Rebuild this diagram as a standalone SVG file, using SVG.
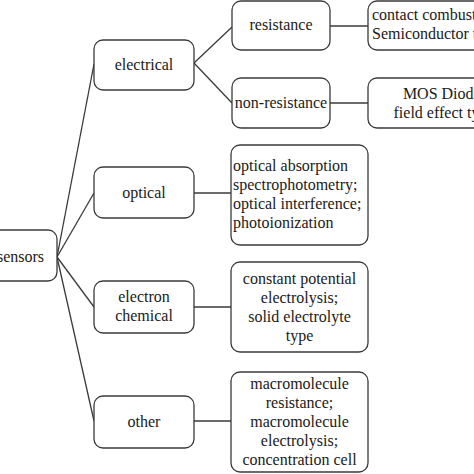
<svg xmlns="http://www.w3.org/2000/svg" width="474" height="474" viewBox="0 0 474 474">
<style>
.box{fill:#fff;stroke:#3a3a3a;stroke-width:1.3}
.ln{stroke:#3a3a3a;stroke-width:1.3;fill:none}
text{font-family:"Liberation Serif","Times New Roman",serif;font-size:16px;fill:#1a1a1a}
.c{text-anchor:middle}
</style>
<rect width="474" height="474" fill="#fff"/>
<g id="connectors">
<line class="ln" x1="57" y1="257" x2="94" y2="64"/>
<line class="ln" x1="57" y1="257" x2="94" y2="193"/>
<line class="ln" x1="57" y1="257" x2="94" y2="307"/>
<line class="ln" x1="57" y1="257" x2="94" y2="421"/>
<line class="ln" x1="194" y1="63" x2="232" y2="27"/>
<line class="ln" x1="194" y1="63" x2="232" y2="103"/>
<line class="ln" x1="330" y1="26" x2="368" y2="26"/>
<line class="ln" x1="330" y1="103" x2="368" y2="103"/>
<line class="ln" x1="194" y1="193" x2="231" y2="193"/>
<line class="ln" x1="194" y1="307" x2="231" y2="307"/>
<line class="ln" x1="194" y1="421" x2="231" y2="421"/>
</g>
<g id="sensors"><rect class="box" x="-16" y="230" width="73" height="51" rx="9"/><text class="c" x="20.5" y="262">sensors</text></g>
<g id="electrical"><rect class="box" x="94" y="40" width="100" height="50" rx="9"/><text class="c" x="144" y="70">electrical</text></g>
<g id="optical"><rect class="box" x="94" y="167" width="100" height="51" rx="9"/><text class="c" x="144" y="198">optical</text></g>
<g id="electron-chemical"><rect class="box" x="94" y="281" width="100" height="52" rx="9"/><text class="c" x="144" y="302">electron</text><text class="c" x="144" y="321">chemical</text></g>
<g id="other"><rect class="box" x="94" y="396" width="100" height="52" rx="9"/><text class="c" x="144" y="427">other</text></g>
<g id="resistance"><rect class="box" x="232" y="1" width="98" height="49" rx="9"/><text class="c" x="281" y="30">resistance</text></g>
<g id="non-resistance"><rect class="box" x="232" y="78" width="98" height="50" rx="9"/><text class="c" x="281" y="108">non-resistance</text></g>
<g id="contact"><rect class="box" x="368" y="1" width="160" height="49" rx="9"/><text x="372" y="20">contact combustion;</text><text x="372" y="39">Semiconductor type</text></g>
<g id="mos"><rect class="box" x="368" y="78" width="160" height="50" rx="9"/><text class="c" x="444" y="99">MOS Diode;</text><text class="c" x="444" y="118">field effect type</text></g>
<g id="optical-detail"><rect class="box" x="231" y="145" width="137" height="100" rx="9"/><text x="233" y="171">optical absorption</text><text x="233" y="190">spectrophotometry;</text><text x="233" y="209">optical interference;</text><text x="233" y="228">photoionization</text></g>
<g id="ec-detail"><rect class="box" x="231" y="262" width="137" height="90" rx="9"/><text class="c" x="299.5" y="284">constant potential</text><text class="c" x="299.5" y="303">electrolysis;</text><text class="c" x="299.5" y="322">solid electrolyte</text><text class="c" x="299.5" y="341">type</text></g>
<g id="other-detail"><rect class="box" x="231" y="372" width="137" height="100" rx="9"/><text class="c" x="299.5" y="389">macromolecule</text><text class="c" x="299.5" y="408">resistance;</text><text class="c" x="299.5" y="427">macromolecule</text><text class="c" x="299.5" y="446">electrolysis;</text><text class="c" x="299.5" y="465">concentration cell</text></g>
</svg>
